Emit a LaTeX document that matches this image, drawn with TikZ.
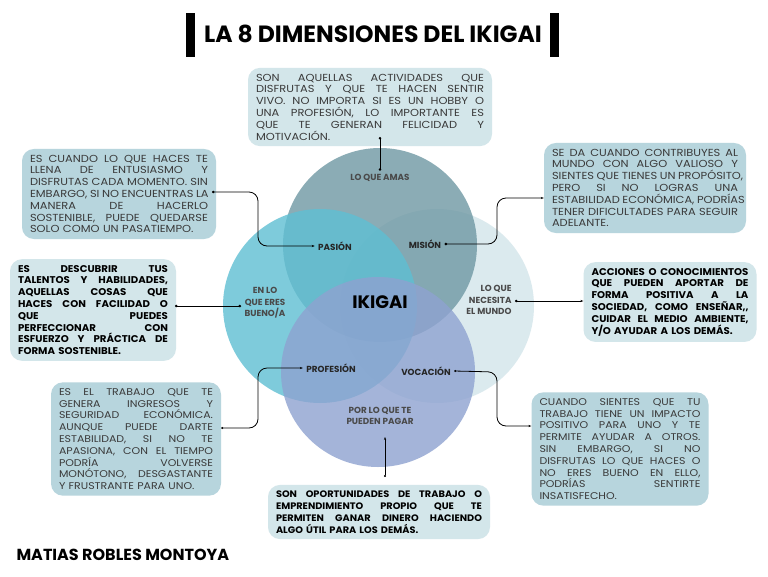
\documentclass[tikz,border=0pt]{standalone}
\usepackage{fontspec}
\setmainfont{Poppins}
\newfontfamily\wide{Poppins}[FakeStretch=1.12]
\newfontfamily\wideb{Poppins}[FakeStretch=1.04,UprightFont=* Bold]
\newcommand\jl[1]{\leavevmode\hbox to\hsize{\spaceskip=0.25em plus 1fil\relax #1}\\}
\usetikzlibrary{arrows.meta}
\definecolor{bxA}{HTML}{D3E6EA}
\definecolor{bxB}{HTML}{B7D5DD}
\definecolor{cTop}{HTML}{6F98A3}
\definecolor{cLeft}{HTML}{5EBFD3}
\definecolor{cRight}{HTML}{D3E5EA}
\definecolor{cBot}{HTML}{8EA2D0}
\definecolor{lbl}{HTML}{4A4A4A}
\definecolor{txt}{HTML}{3A3A3A}
\tikzset{
 box/.style={rounded corners=12pt,inner xsep=8pt,inner ysep=6pt,align=left,font=\wide\fontsize{10.2}{11.8}\selectfont,text=txt},
 la/.style={box,fill=bxA},
 lb/.style={box,fill=bxB},
 strong/.style={font=\wideb\fontsize{9.8}{11.8}\selectfont,text=black},
 lab/.style={font=\bfseries\fontsize{8.8}{11.5}\selectfont,text=lbl,align=center},
 con/.style={line width=0.8pt,rounded corners=9pt,{Circle[length=2.5pt]}-{Stealth[length=3pt]}},
 circ/.style={fill opacity=0.8}
}
\begin{document}
\begin{tikzpicture}[x=1pt,y=-1pt]
\useasboundingbox (0,0) rectangle (768,576);
\fill[white] (0,0) rectangle (768,576);
% title
\fill[black] (186,13) rectangle (195,57);
\fill[black] (550,13) rectangle (559,57);
\node[font=\fontsize{23.5}{26}\selectfont\bfseries] (title) at (373,34) {LA 8 DIMENSIONES DEL IKIGAI};
% circles
\fill[cRight,circ] (437,306) circle (97);
\fill[cTop,circ] (380,245) circle (97);
\fill[cLeft,circ] (320,306) circle (97);
\fill[cBot,circ] (378,372) ellipse (97 and 95);
% labels
\node[lab] (amas) at (380,178) {LO QUE AMAS};
\node[lab,text=black!85] (pasion) at (335,246) {PASIÓN};
\node[lab,text=black!85] (mision) at (425,244) {MISIÓN};
\node[lab] (bueno) at (265,303) {EN LO\\QUE ERES\\BUENO/A};
\node[font=\bfseries\fontsize{18}{20}\selectfont] (ikigai) at (380,302) {IKIGAI};
\node[lab,align=right] (mundo) at (489,300) {LO QUE\\NECESITA\\EL MUNDO};
\node[lab,text=black!85] (prof) at (331,368) {PROFESIÓN};
\node[lab,text=black!85] (voc) at (426,371) {VOCACIÓN};
\node[lab] (pagar) at (380,416) {POR LO QUE TE\\PUEDEN PAGAR};
% boxes
\node[la,text width=228pt] (b1) at (370,107) {\jl{SON AQUELLAS ACTIVIDADES QUE}\jl{DISFRUTAS Y QUE TE HACEN SENTIR}\jl{VIVO. NO IMPORTA SI ES UN HOBBY O}\jl{UNA PROFESIÓN, LO IMPORTANTE ES}\jl{QUE TE GENERAN FELICIDAD Y}MOTIVACIÓN.};
\node[lb,text width=178pt] (b2) at (119,194) {\jl{ES CUANDO LO QUE HACES TE}\jl{LLENA DE ENTUSIASMO Y}\jl{DISFRUTAS CADA MOMENTO. SIN}\jl{EMBARGO, SI NO ENCUENTRAS LA}\jl{MANERA DE HACERLO}\jl{SOSTENIBLE, PUEDE QUEDARSE}SOLO COMO UN PASATIEMPO.};
\node[la,strong,text width=150pt] (b3) at (93,310) {\jl{ES DESCUBRIR TUS}\jl{TALENTOS Y HABILIDADES,}\jl{AQUELLAS COSAS QUE}\jl{HACES CON FACILIDAD O}\jl{QUE PUEDES}\jl{PERFECCIONAR CON}\jl{ESFUERZO Y PRÁCTICA DE}FORMA SOSTENIBLE.};
\node[lb,text width=154pt,font=\wide\fontsize{9.8}{11.8}\selectfont] (b4) at (136,439) {\jl{ES EL TRABAJO QUE TE}\jl{GENERA INGRESOS Y}\jl{SEGURIDAD ECONÓMICA.}\jl{AUNQUE PUEDE DARTE}\jl{ESTABILIDAD, SI NO TE}\jl{APASIONA, CON EL TIEMPO}\jl{PODRÍA VOLVERSE}\jl{MONÓTONO, DESGASTANTE}Y FRUSTRANTE PARA UNO.};
\node[la,strong,text width=206pt,font=\wideb\fontsize{9.4}{11.8}\selectfont] (b5) at (379,512) {\jl{SON OPORTUNIDADES DE TRABAJO O}\jl{EMPRENDIMIENTO PROPIO QUE TE}\jl{PERMITEN GANAR DINERO HACIENDO}ALGO ÚTIL PARA LOS DEMÁS.};
\node[lb,text width=186pt] (b6) at (645,188) {\jl{SE DA CUANDO CONTRIBUYES AL}\jl{MUNDO CON ALGO VALIOSO Y}\jl{SIENTES QUE TIENES UN PROPÓSITO,}\jl{PERO SI NO LOGRAS UNA}\jl{ESTABILIDAD ECONÓMICA, PODRÍAS}\jl{TENER DIFICULTADES PARA SEGUIR}ADELANTE.};
\node[la,strong,text width=157pt] (b7) at (670,302) {\jl{ACCIONES O CONOCIMIENTOS}\jl{QUE PUEDEN APORTAR DE}\jl{FORMA POSITIVA A LA}\jl{SOCIEDAD, COMO ENSEÑAR,,}\jl{CUIDAR EL MEDIO AMBIENTE,}Y/O AYUDAR A LOS DEMÁS.};
\node[lb,text width=161pt,font=\wide\fontsize{9.8}{11.8}\selectfont] (b8) at (620,449) {\jl{CUANDO SIENTES QUE TU}\jl{TRABAJO TIENE UN IMPACTO}\jl{POSITIVO PARA UNO Y TE}\jl{PERMITE AYUDAR A OTROS.}\jl{SIN EMBARGO, SI NO}\jl{DISFRUTAS LO QUE HACES O}\jl{NO ERES BUENO EN ELLO,}\jl{PODRÍAS SENTIRTE}INSATISFECHO.};
% connectors
\draw[con,{Circle[length=2.5pt]}-{Circle[length=2.5pt]}] (380,137) -- (amas.north);
\draw[con] (212,192) -- (258,192) -- (258,246) -- (pasion.west);
\draw[con,{Circle[length=2.5pt]}-{Circle[length=2.5pt]}] (175,306) -- (bueno.west |- 0,306);
\draw[con,{Circle[length=2.5pt]}-{Stealth[length=3pt]}] (mundo.east |- 0,301) -- (b7.west |- 0,301);
\draw[con,{Circle[length=2.5pt]}-{Stealth[length=3pt]}] (mision.east) -- (497,244) -- (497,198) -- (b6.west |- 0,198);
\draw[con,{Circle[length=2pt]}-{Stealth[length=3pt]}] (b4.east |- 0,428) -- (258,428) -- (258,368) -- (prof.west);
\draw[con,{Circle[length=2pt]}-{Stealth[length=3pt]}] (voc.east) -- (497,372) -- (497,426) -- (b8.west |- 0,426);
\draw[con,{Circle[length=2pt]}-{Stealth[length=3pt]}] (385,477) -- (385,437);
% author
\node[anchor=west,font=\fontsize{16}{18}\selectfont\bfseries] (author) at (13,555) {MATIAS ROBLES MONTOYA};
\end{tikzpicture}
\end{document}
